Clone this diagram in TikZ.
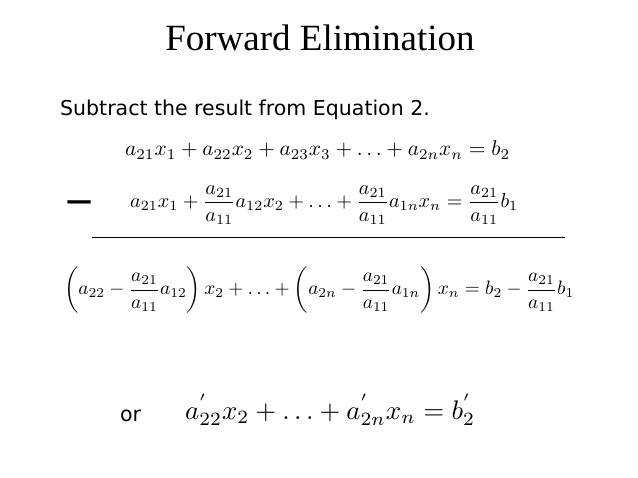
\documentclass[tikz,border=0pt]{standalone}
\usepackage{fontspec}
\usepackage{amsmath}
\setmainfont{Liberation Serif}
\newfontfamily\verd{DejaVu Sans}
\begin{document}
\begin{tikzpicture}[x=1pt,y=-1pt,eq/.style={inner sep=0pt,anchor=west}]
\useasboundingbox (0,0) rectangle (638,478);
\node[inner sep=0pt] (title) at (320,38) {\fontsize{37}{42}\selectfont Forward Elimination};
\node[eq] (sub) at (60,110) {\verd\fontsize{20.5}{24}\selectfont Subtract the result from Equation 2.};
\node[eq] (l1) at (125,150) {\resizebox{385pt}{!}{$a_{21}x_1+a_{22}x_2+a_{23}x_3+\ldots+a_{2n}x_n=b_2$}};
\node[eq] (minus) at (66,205) {\verd\fontsize{26}{28}\selectfont\bfseries —};
\node[eq] (l2) at (130,205) {\resizebox{388pt}{!}{$a_{21}x_1+\dfrac{a_{21}}{a_{11}}a_{12}x_2+\ldots+\dfrac{a_{21}}{a_{11}}a_{1n}x_n=\dfrac{a_{21}}{a_{11}}b_1$}};
\coordinate (r1) at (92,237); \coordinate (r2) at (565,237);
\draw[line width=0.8pt] (r1) -- (r2);
\node[eq] (l3) at (64,290) {\resizebox{510pt}{!}{$\left(a_{22}-\dfrac{a_{21}}{a_{11}}a_{12}\right)x_2+\ldots+\left(a_{2n}-\dfrac{a_{21}}{a_{11}}a_{1n}\right)x_n=b_2-\dfrac{a_{21}}{a_{11}}b_1$}};
\node[eq] (or) at (120,416) {\verd\fontsize{20.5}{24}\selectfont or};
\node[eq] (l4) at (185,410) {\resizebox{290pt}{!}{$a_{22}^{'}x_2+\ldots+a_{2n}^{'}x_n=b_2^{'}$}};
\end{tikzpicture}
\end{document}
